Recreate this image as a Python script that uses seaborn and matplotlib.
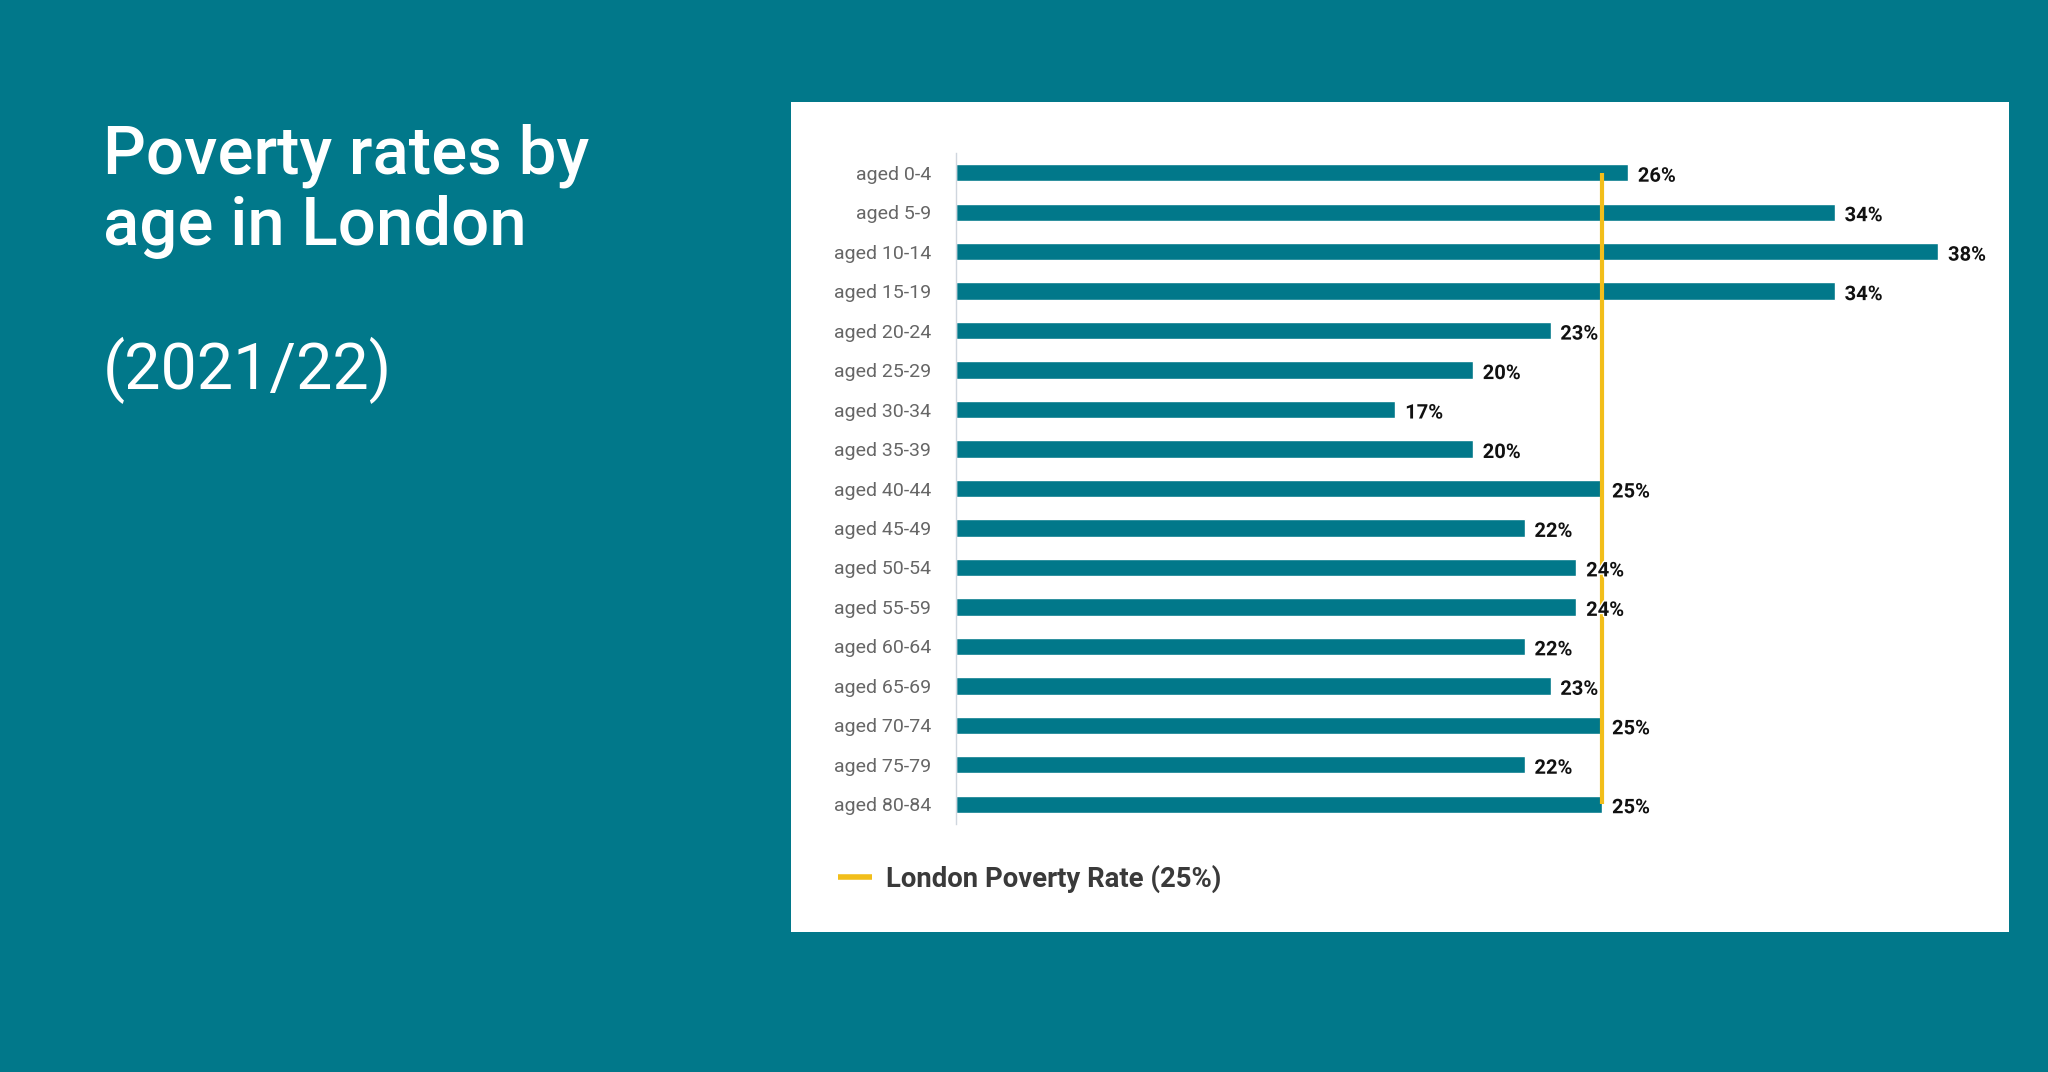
import numpy as np
import pandas as pd
import matplotlib
matplotlib.use("Agg")
import matplotlib.pyplot as plt
import matplotlib.patheffects as pe
from matplotlib.patches import Rectangle
import seaborn as sns

# data
ages = ["aged 0-4", "aged 5-9", "aged 10-14", "aged 15-19", "aged 20-24", "aged 25-29",
        "aged 30-34", "aged 35-39", "aged 40-44", "aged 45-49", "aged 50-54", "aged 55-59",
        "aged 60-64", "aged 65-69", "aged 70-74", "aged 75-79", "aged 80-84"]
rates = [26, 34, 38, 34, 23, 20, 17, 20, 25, 22, 24, 24, 22, 23, 25, 22, 25]
london_rate = 25
title_lines = ["Poverty rates by", "age in London"]
subtitle = "(2021/22)"

TEAL = "#01788A"
YELLOW = "#F2BE1A"
W, H = 2048, 1072

sns.set_style("white")
plt.rcParams["font.family"] = ["Roboto", "DejaVu Sans"]

df = pd.DataFrame({"age": ages, "rate": rates})

fig = plt.figure(figsize=(W / 100, H / 100), dpi=100, facecolor=TEAL)

# white card behind the chart
fig.patches.append(Rectangle((791 / W, 1 - 932 / H), (2009 - 791) / W, (932 - 102) / H,
                             transform=fig.transFigure, facecolor="white",
                             edgecolor="none", zorder=-1))

ax = fig.add_axes([956 / W, 1 - 824 / H, (1990 - 956) / W, 671 / H])
ax.set_facecolor("none")

sns.barplot(data=df, x="rate", y="age", color=TEAL, width=0.44, saturation=1,
            orient="h", ax=ax)

# value labels, drawn over the reference line
for i, v in enumerate(rates):
    ax.annotate(f"{v}%", (v, i), xytext=(7, -2.5), textcoords="offset points",
                va="center", ha="left", fontsize=14.5, fontweight="bold",
                color="#111111", zorder=5,
                path_effects=[pe.withStroke(linewidth=2, foreground="white")])

ax.vlines(london_rate, 0, len(ages) - 1, color=YELLOW, lw=3, zorder=3,
          label=f"London Poverty Rate ({london_rate}%)")

ax.set_xlim(0, 40)
ax.set_ylim(len(ages) - 0.5, -0.5)
ax.set_xlabel("")
ax.set_ylabel("")
ax.set_xticks([])
ax.tick_params(axis="y", length=0, pad=18, labelsize=14, labelcolor="#666666")
for s in ["top", "right", "bottom"]:
    ax.spines[s].set_visible(False)
ax.spines["left"].set_color("#cfd6de")
ax.spines["left"].set_linewidth(1)

leg = fig.legend(loc="center left", bbox_to_anchor=(838 / W, 1 - 879 / H),
                 frameon=False, borderpad=0, borderaxespad=0, handlelength=1.25,
                 handletextpad=0.5, prop={"weight": "bold", "size": 19.8})
for t in leg.get_texts():
    t.set_color("#3a3a3a")
for h in leg.legend_handles:
    h.set_linewidth(4)

# title block
fig.text(103 / W, 1 - 173 / H, title_lines[0], color="white", fontsize=48.3,
         fontweight="medium", va="baseline", ha="left")
fig.text(103 / W, 1 - 245 / H, title_lines[1], color="white", fontsize=48.3,
         fontweight="medium", va="baseline", ha="left")
fig.text(103 / W, 1 - 389 / H, subtitle, color="white", fontsize=46.5,
         fontweight="normal", va="baseline", ha="left")

fig.savefig("out.png", dpi=100, facecolor=TEAL)
